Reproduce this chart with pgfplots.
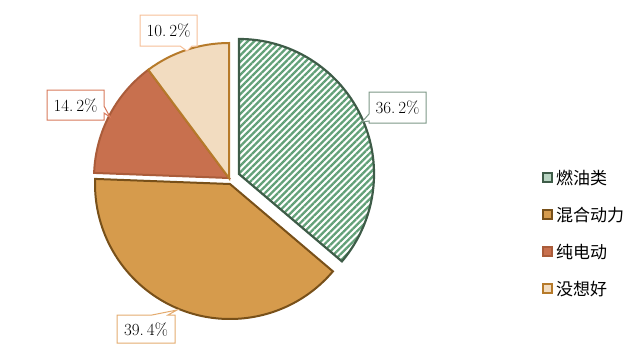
\documentclass[border=0pt]{standalone}
\usepackage{pgfplots}
\pgfplotsset{compat=1.18}
\usepackage{fontspec}
\newfontfamily\cjk{Noto Sans CJK SC}
\usetikzlibrary{patterns.meta}
\definecolor{gB}{RGB}{62,92,72}
\definecolor{gS}{RGB}{98,160,120}
\definecolor{oF}{RGB}{214,155,76}
\definecolor{oB}{RGB}{120,80,25}
\definecolor{rF}{RGB}{200,112,78}
\definecolor{rB}{RGB}{170,92,58}
\definecolor{pF}{RGB}{242,220,192}
\definecolor{pB}{RGB}{182,122,42}
\definecolor{gL}{RGB}{125,152,135}
\definecolor{oL}{RGB}{228,172,112}
\definecolor{rL}{RGB}{216,122,92}
\definecolor{pL}{RGB}{246,192,152}
\newcommand\pct[2]{#1.\hspace{3pt}#2\%}
\begin{document}
\begin{tikzpicture}
\begin{axis}[scale only axis, width=642pt, height=354pt,
  xmin=0, xmax=642, ymin=0, ymax=354, y dir=reverse,
  hide axis, clip=false]
\path (axis cs:0,0) rectangle (axis cs:642,354);
% values (percent): 36.2, 39.4, 14.2, 10.2  -> angles start at 90 deg, clockwise
\pgfmathsetmacro{\aA}{90-36.2*3.6}
\pgfmathsetmacro{\aB}{\aA-39.4*3.6}
\pgfmathsetmacro{\aC}{\aB-14.2*3.6}
\pgfmathsetmacro{\aD}{\aC-10.2*3.6}
% 39.4 mixed
\filldraw[fill=oF, draw=oB, line width=2pt, line join=miter]
  (axis cs:230,184) -- ++(\aA:135pt) arc[start angle=\aA, end angle=\aB, radius=135pt] -- cycle;
% 14.2 electric
\filldraw[fill=rF, draw=rB, line width=2pt]
  (axis cs:229,178) -- ++(\aB:135pt) arc[start angle=\aB, end angle=\aC, radius=135pt] -- cycle;
% 10.2 undecided
\filldraw[fill=pF, draw=pB, line width=2pt]
  (axis cs:229,178) -- ++(\aC:135pt) arc[start angle=\aC, end angle=\aD, radius=135pt] -- cycle;
% 36.2 fuel (exploded)
\fill[white]
  (axis cs:239,174) -- ++(90:135pt) arc[start angle=90, end angle=\aA, radius=135pt] -- cycle;
\fill[pattern={Lines[angle=45,distance=4.6pt,line width=2.3pt]}, pattern color=gS]
  (axis cs:239,174) -- ++(90:135pt) arc[start angle=90, end angle=\aA, radius=135pt] -- cycle;
\draw[gB, line width=2.2pt]
  (axis cs:239,174) -- ++(90:135pt) arc[start angle=90, end angle=\aA, radius=135pt] -- cycle;
% data labels (callouts)
\filldraw[fill=white, draw=gL, line width=1pt]
  (axis cs:369,92) -- (axis cs:426,92) -- (axis cs:426,123) -- (axis cs:369,123)
  -- (axis cs:369,121) -- (axis cs:362,122) -- (axis cs:369,114) -- cycle;
\node[font=\fontsize{17}{20}\selectfont] at (axis cs:397.5,108) {\pct{36}{2}};
\filldraw[fill=white, draw=oL, line width=1pt]
  (axis cs:117,315) -- (axis cs:152,315) -- (axis cs:177,310) -- (axis cs:168,315)
  -- (axis cs:175,315) -- (axis cs:175,343) -- (axis cs:117,343) -- cycle;
\node[font=\fontsize{17}{20}\selectfont] at (axis cs:146,330) {\pct{39}{4}};
\filldraw[fill=white, draw=pL, line width=1pt]
  (axis cs:140,15) -- (axis cs:197,15) -- (axis cs:197,46) -- (axis cs:192,46)
  -- (axis cs:187,51) -- (axis cs:180,46) -- (axis cs:140,46) -- cycle;
\node[font=\fontsize{17}{20}\selectfont] at (axis cs:168.5,31) {\pct{10}{2}};
\filldraw[fill=white, draw=rL, line width=1pt]
  (axis cs:47,90) -- (axis cs:104,90) -- (axis cs:104,106) -- (axis cs:110,117)
  -- (axis cs:104,113) -- (axis cs:104,120) -- (axis cs:47,120) -- cycle;
\node[font=\fontsize{17}{20}\selectfont] at (axis cs:75.5,105.5) {\pct{14}{2}};
% legend
\filldraw[fill=gS!45!white, draw=gB, line width=2.5pt] (axis cs:543,173) rectangle (axis cs:552,182);
\node[anchor=west, font=\cjk\fontsize{17}{20}\selectfont, inner sep=0pt] at (axis cs:556,178) {燃油类};
\filldraw[fill=oF, draw=oB, line width=2.5pt] (axis cs:543,210) rectangle (axis cs:552,219);
\node[anchor=west, font=\cjk\fontsize{17}{20}\selectfont, inner sep=0pt] at (axis cs:556,215) {混合动力};
\filldraw[fill=rF, draw=rB, line width=2.5pt] (axis cs:543,247) rectangle (axis cs:552,256);
\node[anchor=west, font=\cjk\fontsize{17}{20}\selectfont, inner sep=0pt] at (axis cs:556,252) {纯电动};
\filldraw[fill=pF, draw=pB, line width=2.5pt] (axis cs:543,284) rectangle (axis cs:552,293);
\node[anchor=west, font=\cjk\fontsize{17}{20}\selectfont, inner sep=0pt] at (axis cs:556,289) {没想好};
\end{axis}
\end{tikzpicture}
\end{document}
